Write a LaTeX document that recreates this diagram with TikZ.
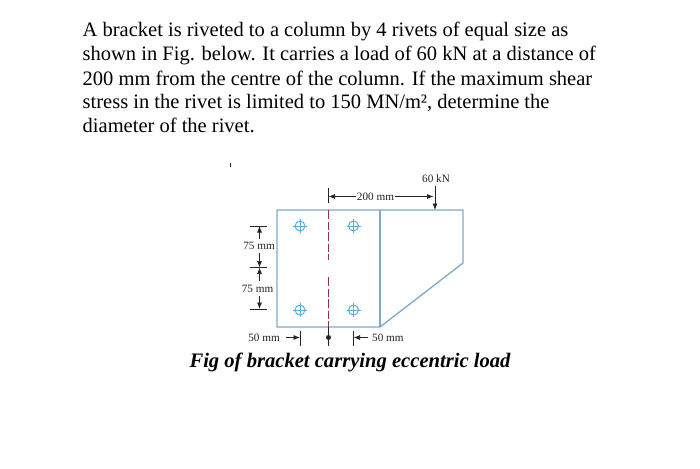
\documentclass[tikz,border=0pt]{standalone}
\usepackage{fontspec}
\setmainfont{Liberation Serif}
\usetikzlibrary{arrows.meta}
\definecolor{plate}{RGB}{125,170,200}
\definecolor{rivet}{RGB}{90,175,215}
\definecolor{centre}{RGB}{150,50,80}
\definecolor{ink}{RGB}{35,35,35}
\tikzset{
  x=1pt,y=-1pt,
  para/.style={anchor=base west,inner sep=0pt,font=\fontsize{20.5}{24}\selectfont,text=black},
  small/.style={inner xsep=1pt,inner ysep=2.5pt,font=\fontsize{11.2}{13}\selectfont,text=ink},
  platel/.style={draw=plate,line width=1.3pt,line join=miter},
  rivetc/.style={circle,draw=rivet,line width=1pt,minimum size=10pt,inner sep=0pt},
  rivetl/.style={draw=rivet,line width=0.7pt},
  dim/.style={draw=ink,line width=0.7pt},
  dimar/.style={dim,-{Latex[length=6.5pt,width=5pt]}},
  cl/.style={draw=centre,line width=0.9pt},
}
\begin{document}
\begin{tikzpicture}
\useasboundingbox (0,0) rectangle (700,468);
\fill[white] (0,0) rectangle (700,468);
% paragraph
\node[para] (l1) at (82.5,36.7) {A bracket is riveted to a column by 4 rivets of equal size as};
\node[para] (l2) at (82.5,60.5) {shown in Fig. below. It carries a load of 60 kN at a distance of};
\node[para] (l3) at (82.5,85) {200 mm from the centre of the column. If the maximum shear};
\node[para] (l4) at (82.5,108.3) {stress in the rivet is limited to 150 MN/m², determine the};
\node[para] (l5) at (82.5,132.3) {diameter of the rivet.};
% stray tick
\coordinate (ta) at (230,163); \coordinate (tb) at (230,167);
\draw[ink,line width=0.7pt] (ta) -- (tb);
% plate
\coordinate (p1) at (277,210); \coordinate (p2) at (463,210);
\coordinate (p3) at (463,263); \coordinate (p4) at (380,327);
\coordinate (p5) at (277,327); \coordinate (p6) at (380,210);
\draw[platel] (p1) -- (p2) -- (p3) -- (p4) -- (p5) -- cycle;
\draw[platel] (p6) -- (p4);
% centre line
\coordinate (c0) at (328.5,187.5); \coordinate (c0b) at (328.5,203);
\coordinate (c1) at (328.5,210);
\coordinate (c2) at (328.5,260); \coordinate (c3) at (328.5,277);
\coordinate (c4) at (328.5,327); \coordinate (c5) at (328.5,345.5);
\draw[cl,dash pattern=on 9pt off 3pt on 8pt off 2pt] (c1) -- (c2);
\draw[cl,dash pattern=on 9pt off 3pt on 8pt off 2pt] (c3) -- (c4);
\draw[dim] (c4) -- (c5);
\node[circle,fill=ink,minimum size=5pt,inner sep=0pt] (dot) at (328.5,337.5) {};
% rivets
\foreach \n/\px/\py in {a/300/226,b/353.5/226,c/300/310,d/353.5/310}{
  \node[rivetc] (r\n) at (\px,\py) {};
  \draw[rivetl] ([yshift=7pt]r\n.center) -- ([yshift=-7pt]r\n.center);
  \draw[rivetl] ([xshift=-7pt]r\n.center) -- ([xshift=7pt]r\n.center);
}
% 200 mm dimension
\draw[dim] (c0) -- (c0b);
\node[small] (d200) at (375.5,196.5) {200 mm};
\coordinate (d200l) at (328.5,196.5); \coordinate (d200r) at (433.5,196.5);
\draw[dimar] (d200) -- (d200l);
\draw[dimar] (d200) -- (d200r);
% load
\node[small] (load) at (436,179) {60 kN};
\coordinate (loadt) at (435,186); \coordinate (loadb) at (435,210);
\draw[dimar] (loadt) -- (loadb);
% left dimensions
\coordinate (e1l) at (250,226); \coordinate (e1r) at (267,226);
\coordinate (e2l) at (250,267.5); \coordinate (e2r) at (267,267.5);
\coordinate (e3l) at (250,309); \coordinate (e3r) at (267,309);
\draw[dim] (e1l) -- (e1r);
\draw[dim] (e2l) -- (e2r);
\draw[dim] (e3l) -- (e3r);
\node[small] (v1) at (259,246) {75 mm};
\node[small] (v2) at (257.5,288.5) {75 mm};
\coordinate (m1) at (259.5,226); \coordinate (m2) at (259.5,267.5); \coordinate (m3) at (259.5,309);
\draw[dimar] (259.5,239) -- (m1);
\draw[dimar] (259.5,253) -- (m2);
\draw[dimar] (259.5,281) -- (m2);
\draw[dimar] (259.5,296) -- (m3);
% bottom dimensions
\coordinate (f1a) at (300,330.5); \coordinate (f1b) at (300,346);
\coordinate (f2a) at (353.5,330.5); \coordinate (f2b) at (353.5,346);
\draw[dim] (f1a) -- (f1b);
\draw[dim] (f2a) -- (f2b);
\node[small,anchor=east] (b1) at (281,337.5) {50 mm};
\node[small,anchor=west] (b2) at (371,337.5) {50 mm};
\coordinate (g1s) at (286,337.5); \coordinate (g1e) at (300,337.5);
\coordinate (g2s) at (368,337.5); \coordinate (g2e) at (353.5,337.5);
\draw[dimar] (g1s) -- (g1e);
\draw[dimar] (g2s) -- (g2e);
% caption
\node[anchor=base,inner sep=0pt,font=\fontsize{20.6}{24}\selectfont\bfseries\itshape] (cap) at (350,367) {Fig of bracket carrying eccentric load};
\end{tikzpicture}
\end{document}
